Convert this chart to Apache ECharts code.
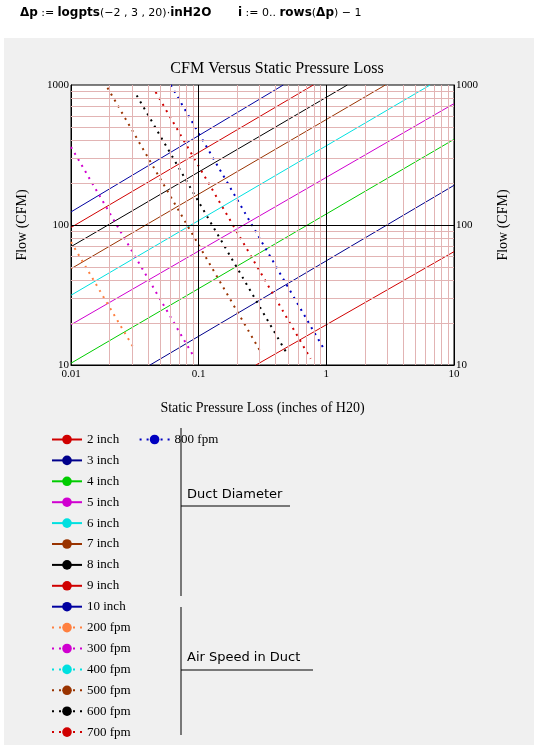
<!DOCTYPE html>
<html><head><meta charset="utf-8">
<script src="https://cdn.jsdelivr.net/npm/echarts@6/dist/echarts.min.js"></script>
<style>html,body{margin:0;padding:0;background:#fff}#c{width:538px;height:745px}</style>
</head><body><div id="c"></div>
<script>
const ductNames = ['2 inch','3 inch','4 inch','5 inch','6 inch','7 inch','8 inch','9 inch','10 inch'];
const ductColors = ['#d00000','#00008b','#00cc00','#d000d0','#00e0e0','#993300','#000000','#d00000','#0000a0'];
const ductData = [
  [[0.281,10],[10,64.5]],
  [[0.0416,10],[10,192]],
  [[0.01,10.3],[10,409]],
  [[0.01,19.4],[10,736]],
  [[0.01,31.5],[6.5,1000]],
  [[0.01,48.7],[2.9,1000]],
  [[0.01,70],[1.46,1000]],
  [[0.01,96],[0.79,1000]],
  [[0.01,124],[0.46,1000]]
];
const speedNames = ['200 fpm','300 fpm','400 fpm','500 fpm','600 fpm','700 fpm','800 fpm'];
const speedColors = ['#ff8040','#d000d0','#00e0e0','#993300','#000000','#d00000','#0000c0'];
const speedData = [
  [[0.01,75.7],[0.0307,13.4]],
  [[0.01,361],[0.0925,11.3]],
  [],
  [[0.0193,957],[0.311,12.1]],
  [[0.0327,843],[0.496,11.9]],
  [[0.046,891],[0.753,11.1]],
  [[0.0604,1000],[0.977,12.6]]
];
const xMinor = [0.02,0.03,0.04,0.05,0.06,0.07,0.08,0.09,0.2,0.3,0.4,0.5,0.6,0.7,0.8,0.9,2,3,4,5,6,7,8,9];
const yMinor = [20,30,40,50,60,70,80,90,200,300,400,500,600,700,800,900];
const xMajor = [0.1,1];
const yMajor = [100];

const serif = 'Liberation Serif';
const series = [];
series.push({type:'line',data:[],silent:true,markLine:{silent:true,symbol:'none',label:{show:false},animation:false,
  lineStyle:{color:'#e2b4b4',width:1,type:'solid'},
  data:[...xMinor.map(v=>({xAxis:v})),...yMinor.map(v=>({yAxis:v}))]}});
series.push({type:'line',data:[],silent:true,markLine:{silent:true,symbol:'none',label:{show:false},animation:false,
  lineStyle:{color:'#000',width:1,type:'solid'},
  data:[...xMajor.map(v=>({xAxis:v})),...yMajor.map(v=>({yAxis:v}))]}});
ductNames.forEach((n,i)=>series.push({name:n,type:'line',data:ductData[i],symbol:'none',animation:false,
  lineStyle:{color:ductColors[i],width:1},itemStyle:{color:ductColors[i]}}));
speedNames.forEach((n,i)=>series.push({name:n,type:'line',data:speedData[i],symbol:'none',animation:false,
  lineStyle:{color:speedColors[i],width:2,type:[2,5]},itemStyle:{color:speedColors[i]}}));

const plain = v => String(v);
const chart = echarts.init(document.getElementById('c'));
chart.setOption({
  backgroundColor:'#fff',
  title:{text:'CFM Versus Static Pressure Loss',left:272,top:56,textAlign:'center',
    textStyle:{fontFamily:serif,fontSize:16,fontWeight:'normal',color:'#000'}},
  grid:{left:71,right:84,top:85,bottom:380,backgroundColor:'#fff',show:true,borderColor:'#000',borderWidth:1},
  xAxis:{type:'log',min:0.01,max:10,logBase:10,
    name:'Static Pressure Loss (inches of H20)',nameLocation:'middle',nameGap:36,
    nameTextStyle:{fontFamily:serif,fontSize:14,color:'#000'},
    axisLine:{lineStyle:{color:'#000'}},axisTick:{show:false},splitLine:{show:false},
    axisLabel:{fontFamily:serif,fontSize:11,color:'#000',margin:4,formatter:plain}},
  yAxis:[{type:'log',min:10,max:1000,logBase:10,
    name:'Flow (CFM)',nameLocation:'middle',nameGap:42,nameRotate:90,
    nameTextStyle:{fontFamily:serif,fontSize:14,color:'#000'},
    axisLine:{show:true,lineStyle:{color:'#000'}},axisTick:{show:false},splitLine:{show:false},
    axisLabel:{fontFamily:serif,fontSize:11,color:'#000',margin:2,formatter:plain}},
   {type:'log',min:10,max:1000,logBase:10,position:'right',
    name:'Flow (CFM)',nameLocation:'middle',nameGap:42,nameRotate:90,
    nameTextStyle:{fontFamily:serif,fontSize:14,color:'#000'},
    axisLine:{show:true,lineStyle:{color:'#000'}},axisTick:{show:false},splitLine:{show:false},
    axisLabel:{fontFamily:serif,fontSize:11,color:'#000',margin:2,formatter:plain}}],
  legend:{orient:'vertical',left:46,top:428,height:320,itemWidth:30,itemHeight:12,itemGap:7.9,
    selectedMode:false,
    data:[...ductNames,...speedNames],
    textStyle:{fontFamily:serif,fontSize:13,color:'#000'}},
  graphic:[
    {type:'rect',z:-10,shape:{x:4,y:38,width:530,height:707},style:{fill:'#f0f0f0'}},
    {type:'text',left:20,top:7,style:{rich:{b:{fontFamily:'DejaVu Sans',fontWeight:'bold',fontSize:12},n:{fontFamily:'DejaVu Sans',fontSize:11}},
      text:'{b|Δp} {n|:=} {b|logpts}{n|(−2 , 3 , 20)·}{b|inH2O}        {b|i} {n|:= 0.. }{b|rows}{n|(}{b|Δp}{n|) − 1}'}},
    {type:'line',shape:{x1:181,y1:428,x2:181,y2:596},style:{stroke:'#000',lineWidth:1}},
    {type:'line',shape:{x1:181,y1:506,x2:290,y2:506},style:{stroke:'#000',lineWidth:1}},
    {type:'text',left:187,top:488,style:{text:'Duct Diameter',fontFamily:'DejaVu Sans',fontSize:13,fill:'#000'}},
    {type:'line',shape:{x1:181,y1:607,x2:181,y2:735},style:{stroke:'#000',lineWidth:1}},
    {type:'line',shape:{x1:181,y1:670,x2:313,y2:670},style:{stroke:'#000',lineWidth:1}},
    {type:'text',left:187,top:651,style:{text:'Air Speed in Duct',fontFamily:'DejaVu Sans',fontSize:13,fill:'#000'}}
  ],
  series
});
</script></body></html>
